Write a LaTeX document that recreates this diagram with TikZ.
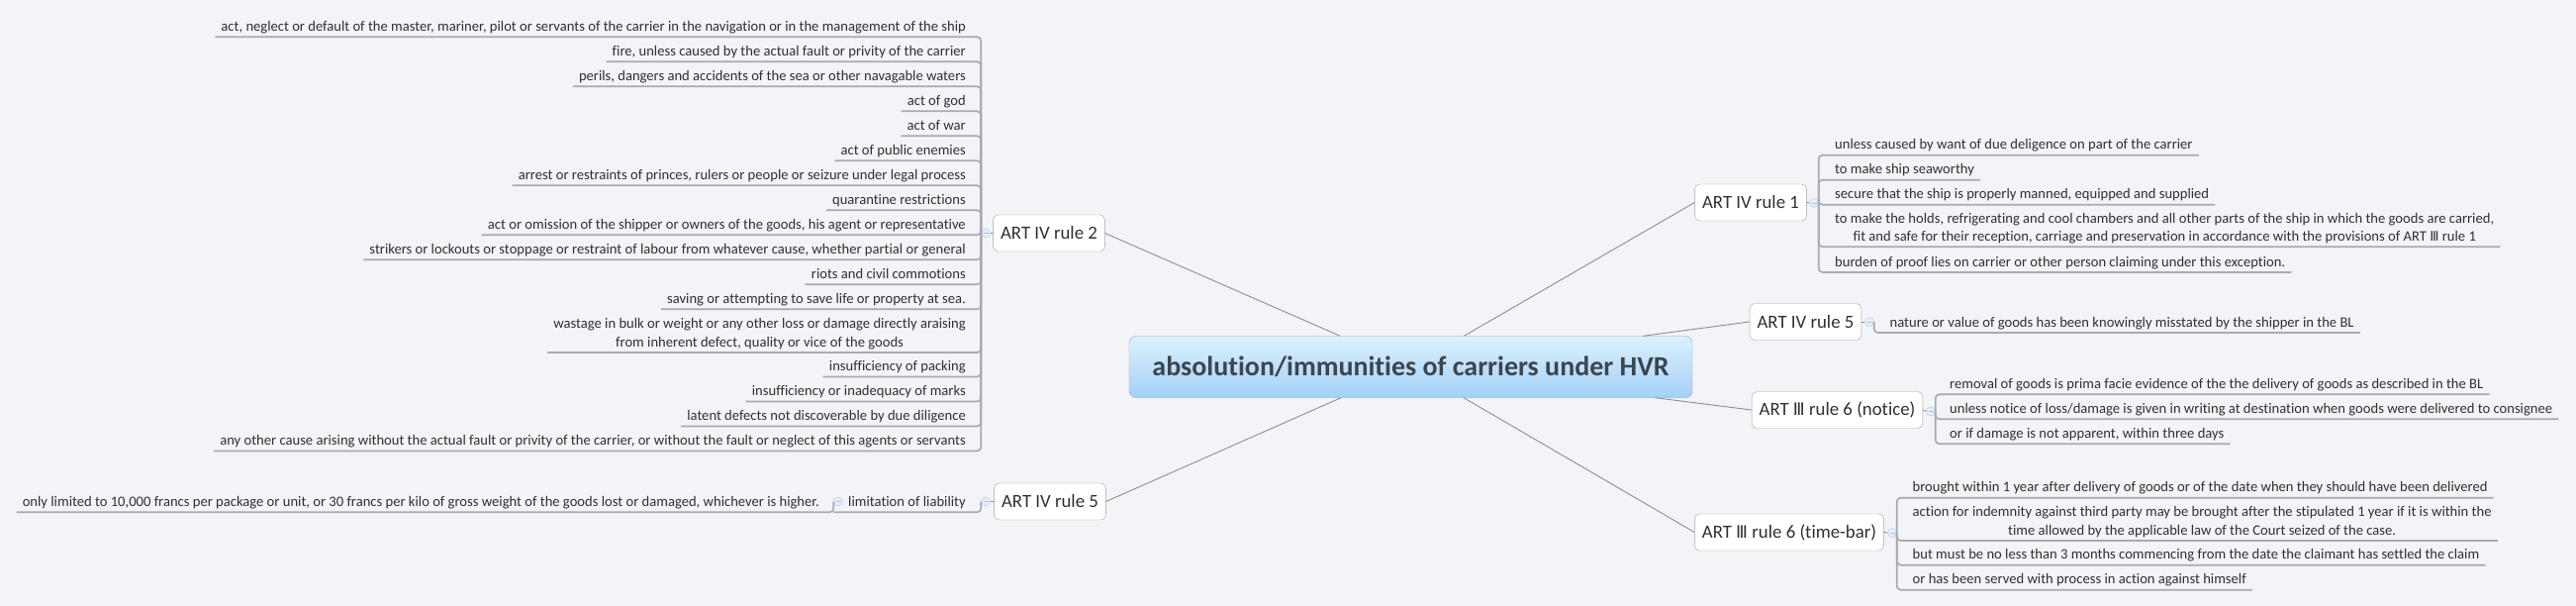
\documentclass[tikz,border=0pt]{standalone}
\usepackage{fontspec}
\setmainfont{Carlito}[Ligatures={NoCommon}]
\newfontfamily\numfont[Scale=0.92]{DejaVu Sans}
\newcommand{\romIII}{{\numfont Ⅲ}}
\usepackage{tikz}
\usepackage{xcolor}

\definecolor{bgcol}{HTML}{F3F4F8}
\definecolor{hvrtop}{HTML}{DDF0FD}
\definecolor{hvrbot}{HTML}{A3D1F6}
\definecolor{hvrline}{HTML}{8FA7BE}
\definecolor{hvrtext}{HTML}{3B4650}
\definecolor{topicline}{HTML}{A2A2A2}
\definecolor{textcol}{HTML}{303030}
\definecolor{ulinecol}{HTML}{A8AAB0}
\definecolor{linkcol}{HTML}{8E8E8E}
\definecolor{btnfill}{HTML}{E7EFF9}
\definecolor{btnline}{HTML}{A9C6E4}

\begin{document}
\begin{tikzpicture}[
        x=1pt, y=-1pt,
        central/.style={draw=hvrline, rounded corners=7pt, top color=hvrtop, bottom color=hvrbot,
            minimum width=569pt, minimum height=62pt, text=hvrtext,
            font=\bfseries\fontsize{28}{32}\selectfont},
        topic/.style={draw=topicline, fill=white, rounded corners=5pt, text=textcol,
            minimum height=37pt, inner xsep=7.5pt, font=\fontsize{18.8}{22}\selectfont},
        leaf/.style={text=textcol, inner xsep=6pt, inner ysep=1.6pt, text depth=4pt,
            align=center, font=\fontsize{14.6}{18.3}\selectfont},
        btn/.style={circle, draw=btnline, fill=btnfill, minimum size=9pt, inner sep=0pt,
            path picture={\draw[btnline] ([xshift=-2.5pt]path picture bounding box.center)
                -- ([xshift=2.5pt]path picture bounding box.center);}},
        uline/.style={draw=ulinecol, line width=1.7pt, rounded corners=4pt},
        link/.style={draw=linkcol, line width=0.9pt}
    ]

        \path[use as bounding box, fill=bgcol] (0, 0) rectangle (2603, 612);

        \node[central] (hvr) at (1425.5, 370.5) {absolution/immunities of carriers under HVR};

        \node[topic] (rTwo) at (1060, 235.5) {ART IV rule 2};
        \node[topic] (rFiveL) at (1061, 506.5) {ART IV rule 5};
        \node[topic] (rOne) at (1769, 204.5) {ART IV rule 1};
        \node[topic] (rFiveR) at (1824.5, 325) {ART IV rule 5};
        \node[topic] (notice) at (1856.5, 414) {ART \romIII{} rule 6 (notice)};
        \node[topic] (timebar) at (1808, 537.5) {ART \romIII{} rule 6 (time-bar)};

        \draw[link] (hvr) -- (rTwo.east);
        \draw[link] (hvr) -- (rFiveL.east);
        \draw[link] (hvr) -- (rOne.west);
        \draw[link] (hvr) -- (rFiveR.west);
        \draw[link] (hvr) -- (notice.west);
        \draw[link] (hvr) -- (timebar.west);

        % ART IV rule 2
        \node[leaf, anchor=south east] (a1) at (982, 37.3) {act, neglect or default of the master, mariner, pilot or servants of the carrier in the navigation or in the management of the ship};
        \node[leaf, anchor=south east] (a2) at (982, 62.3) {fire, unless caused by the actual fault or privity of the carrier};
        \node[leaf, anchor=south east] (a3) at (982, 87.3) {perils, dangers and accidents of the sea or other navagable waters};
        \node[leaf, anchor=south east] (a4) at (982, 112.3) {act of god};
        \node[leaf, anchor=south east] (a5) at (982, 137.3) {act of war};
        \node[leaf, anchor=south east] (a6) at (982, 162.3) {act of public enemies};
        \node[leaf, anchor=south east] (a7) at (982, 187.3) {arrest or restraints of princes, rulers or people or seizure under legal process};
        \node[leaf, anchor=south east] (a8) at (982, 212.3) {quarantine restrictions};
        \node[leaf, anchor=south east] (a9) at (982, 237.3) {act or omission of the shipper or owners of the goods, his agent or representative};
        \node[leaf, anchor=south east] (a10) at (982, 262.3) {strikers or lockouts or stoppage or restraint of labour from whatever cause, whether partial or general};
        \node[leaf, anchor=south east] (a11) at (982, 287.3) {riots and civil commotions};
        \node[leaf, anchor=south east] (a12) at (982, 312.3) {saving or attempting to save life or property at sea.};
        \node[leaf, anchor=south east] (a13) at (982, 356) {wastage in bulk or weight or any other loss or damage directly araising\\from inherent defect, quality or vice of the goods};
        \node[leaf, anchor=south east] (a14) at (982, 380.5) {insufficiency of packing};
        \node[leaf, anchor=south east] (a15) at (982, 405.5) {insufficiency or inadequacy of marks};
        \node[leaf, anchor=south east] (a16) at (982, 430.5) {latent defects not discoverable by due diligence};
        \node[leaf, anchor=south east] (a17) at (982, 455.5) {any other cause arising without the actual fault or privity of the carrier, or without the fault or neglect of this agents or servants};

        \node[btn] (rTwoBtn) at (996, 235.5) {};
        \foreach \i in {1,...,17}
            \draw[uline] (rTwoBtn.west) |- (a\i.south east) -- (a\i.south west);
        \draw[link] (rTwo.west) -- (rTwoBtn.east);

        % ART IV rule 5, left
        \node[leaf, anchor=south east] (lim) at (982, 517.3) {limitation of liability};
        \node[leaf, anchor=south east] (only) at (834, 517.3) {only limited to 10,000 francs per package or unit, or 30 francs per kilo of gross weight of the goods lost or damaged, whichever is higher.};
        \node[btn] (rFiveLBtn) at (996, 506.5) {};
        \node[btn] (limBtn) at (847, 506.5) {};
        \draw[uline] (rFiveLBtn.west) |- (lim.south east) -- (lim.south -| limBtn.west);
        \draw[uline] (limBtn.west) |- (only.south east) -- (only.south west);
        \draw[link] (rFiveL.west) -- (rFiveLBtn.east);

        % ART IV rule 1
        \node[leaf, anchor=south west] (b1) at (1848, 156.7) {unless caused by want of due deligence on part of the carrier};
        \node[leaf, anchor=south west] (b2) at (1848, 181.7) {to make ship seaworthy};
        \node[leaf, anchor=south west] (b3) at (1848, 206.7) {secure that the ship is properly manned, equipped and supplied};
        \node[leaf, anchor=south west] (b4) at (1848, 249.3) {to make the holds, refrigerating and cool chambers and all other parts of the ship in which the goods are carried,\\fit and safe for their reception, carriage and preservation in accordance with the provisions of ART \romIII{} rule 1};
        \node[leaf, anchor=south west] (b5) at (1848, 275) {burden of proof lies on carrier or other person claiming under this exception.};

        \node[btn] (rOneBtn) at (1833, 205) {};
        \foreach \i in {1,...,5}
            \draw[uline] (rOneBtn.east) |- (b\i.south west) -- (b\i.south east);
        \draw[link] (rOne.east) -- (rOneBtn.west);

        % ART IV rule 5, right
        \node[leaf, anchor=south west] (c1) at (1903.5, 336) {nature or value of goods has been knowingly misstated by the shipper in the BL};
        \node[btn] (rFiveRBtn) at (1889, 325) {};
        \draw[uline] (rFiveRBtn.east) |- (c1.south west) -- (c1.south east);
        \draw[link] (rFiveR.east) -- (rFiveRBtn.west);

        % ART III rule 6 (notice)
        \node[leaf, anchor=south west] (d1) at (1964, 398.3) {removal of goods is prima facie evidence of the the delivery of goods as described in the BL};
        \node[leaf, anchor=south west] (d2) at (1964, 423.3) {unless notice of loss/damage is given in writing at destination when goods were delivered to consignee};
        \node[leaf, anchor=south west] (d3) at (1964, 448.3) {or if damage is not apparent, within three days};

        \node[btn] (noticeBtn) at (1951, 415.5) {};
        \foreach \i in {1,...,3}
            \draw[uline] (noticeBtn.east) |- (d\i.south west) -- (d\i.south east);
        \draw[link] (notice.east) -- (noticeBtn.west);

        % ART III rule 6 (time-bar)
        \node[leaf, anchor=south west] (e1) at (1926.5, 502.7) {brought within 1 year after delivery of goods or of the date when they should have been delivered};
        \node[leaf, anchor=south west] (e2) at (1926.5, 546) {action for indemnity against third party may be brought after the stipulated 1 year if it is within the\\time allowed by the applicable law of the Court seized of the case.};
        \node[leaf, anchor=south west] (e3) at (1926.5, 570.7) {but must be no less than 3 months commencing from the date the claimant has settled the claim};
        \node[leaf, anchor=south west] (e4) at (1926.5, 595.7) {or has been served with process in action against himself};

        \node[btn] (timebarBtn) at (1912, 538) {};
        \foreach \i in {1,...,4}
            \draw[uline] (timebarBtn.east) |- (e\i.south west) -- (e\i.south east);
        \draw[link] (timebar.east) -- (timebarBtn.west);
    \end{tikzpicture}
\end{document}
